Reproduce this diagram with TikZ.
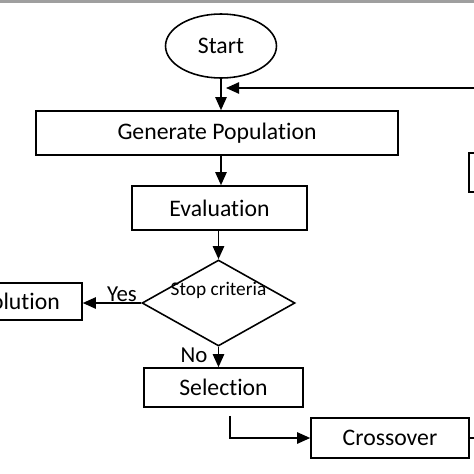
\documentclass[tikz,border=0pt]{standalone}
\usepackage{fontspec}
\setmainfont{Carlito}[Ligatures=NoCommon]
\usetikzlibrary{calc}
\usetikzlibrary{shapes.geometric}
\usetikzlibrary{arrows.meta}

\begin{document}
\begin{tikzpicture}[x=0.02cm,y=-0.02cm,>={Triangle[length=7.5pt,width=6.5pt]},
    box/.style={draw,line width=0.9pt,inner sep=0pt,font=\fontsize{13.5}{15}\selectfont},
    flow/.style={->,line width=0.9pt},
    tag/.style={inner sep=0pt,font=\fontsize{13}{15}\selectfont}]
    \useasboundingbox (0,0) rectangle (474,474);
    \clip (0,0) rectangle (474,474);
    \fill[gray!75] (0,0) rectangle (474,2.5);
    %
    \node[box,ellipse,minimum width=2.22cm,minimum height=1.28cm] (start) at (221,46) {Start};
    \node[box,minimum width=7.24cm,minimum height=0.88cm] (gen) at (217,133) {Generate Population};
    \node[box,minimum width=3.5cm,minimum height=0.88cm] (eval) at (219.5,208) {Evaluation};
    \node[box,diamond,minimum width=3.06cm,minimum height=1.72cm] (crit) at (218.5,303) {};
    \node[inner sep=0pt,font=\fontsize{11}{13}\selectfont] (critlbl) at (218.5,290) {Stop criteria};
    \node[box,minimum width=2.48cm,minimum height=0.74cm] (sol) at (20,301.5) {Solution};
    \node[box,minimum width=3.18cm,minimum height=0.78cm] (sel) at (223.5,387.5) {Selection};
    \node[box,minimum width=3.16cm,minimum height=0.8cm] (cross) at (390,438) {Crossover};
    \node[box,minimum width=2.04cm,minimum height=0.78cm] (mut) at (520,172.5) {};
    %
    \coordinate (back) at (490,88);
    \draw[flow] (start.south) -- (start.south |- gen.north);
    \draw[flow] (back) -- ($(start.south |- back)+(5,0)$);
    \draw[flow] (gen.south -| start.south) -- (eval.north -| start.south);
    \draw[flow] (eval.south -| crit.north) -- (crit.north);
    \draw[flow] (crit.west) -- (crit.west -| sol.east);
    \node[tag] (yes) at (122,294) {Yes};
    \draw[flow] (crit.south) -- (crit.south |- sel.north);
    \node[tag] (no) at (194,355) {No};
    \draw[flow] ($(sel.south)+(6.5,8)$) |- (cross.west);
    \draw[line width=0.9pt] (cross.east) -- ++(20,0);
\end{tikzpicture}
\end{document}
